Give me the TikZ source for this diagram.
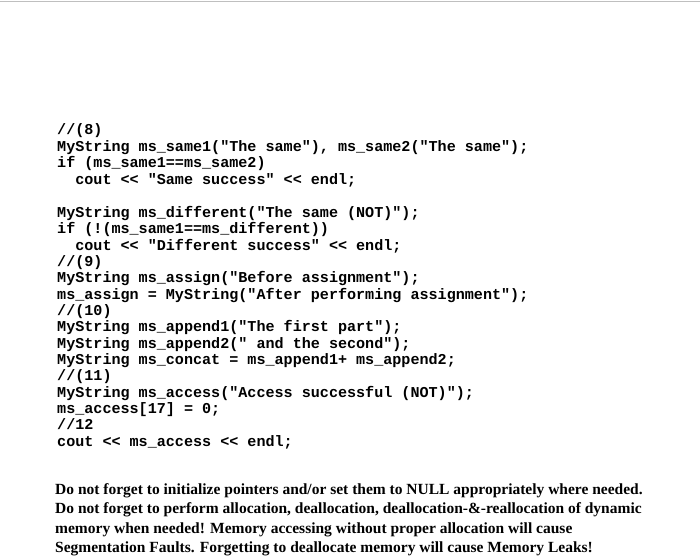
\documentclass[tikz,border=0pt]{standalone}
\usepackage{fontspec}
\setmonofont{Liberation Mono}
\setmainfont{Liberation Serif}
\begin{document}
\begin{tikzpicture}[x=1pt,y=-1pt,
  code/.style={anchor=base west,inner sep=0,font=\ttfamily\bfseries\fontsize{15.1}{16}\selectfont},
  para/.style={anchor=base west,inner sep=0,font=\bfseries\fontsize{15.5}{16}\selectfont}]
\useasboundingbox (0,0) rectangle (700,555);
\fill[white] (0,0) rectangle (700,555);
\draw[gray!50,line width=1] (0,1.5) -- (700,1.5);
\foreach \y/\t [count=\i] in {
 134/{//(8)},
 151/{MyString ms\_same1("The same"), ms\_same2("The same");},
 167/{if (ms\_same1==ms\_same2)},
 184/{\ \ cout << "Same success" << endl;},
 217/{MyString ms\_different("The same (NOT)");},
 233/{if (!(ms\_same1==ms\_different))},
 250/{\ \ cout << "Different success" << endl;},
 266/{//(9)},
 282/{MyString ms\_assign("Before assignment");},
 299/{ms\_assign = MyString("After performing assignment");},
 315/{//(10)},
 331/{MyString ms\_append1("The first part");},
 348/{MyString ms\_append2(" and the second");},
 364/{MyString ms\_concat = ms\_append1+ ms\_append2;},
 380/{//(11)},
 397/{MyString ms\_access("Access successful (NOT)");},
 413/{ms\_access[17] = 0;},
 429/{//12},
 446/{cout << ms\_access << endl;}}
 \node[code] (c\i) at (57,\y) {\t};
\node[para] (p1) at (55,494) {Do not forget to initialize pointers and/or set them to NULL appropriately where needed.};
\node[para] (p2) at (55,513) {Do not forget to perform allocation, deallocation, deallocation-\&-reallocation of dynamic};
\node[para] (p3) at (55,533) {memory when needed! Memory accessing without proper allocation will cause};
\node[para] (p4) at (55,552) {Segmentation Faults. Forgetting to deallocate memory will cause Memory Leaks!};
\end{tikzpicture}
\end{document}
